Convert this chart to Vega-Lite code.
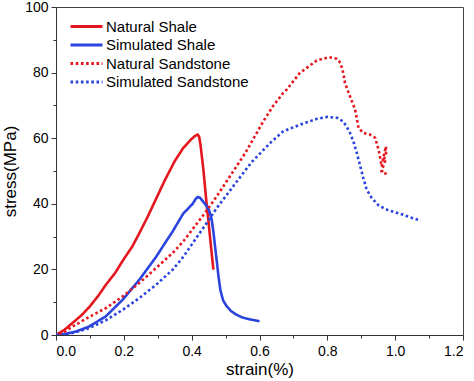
{
  "$schema": "https://vega.github.io/schema/vega-lite/v6.json",
  "width": 407,
  "height": 328,
  "autosize": {"type": "none"},
  "padding": {"left": 56, "top": 7, "right": 11, "bottom": 46},
  "background": "white",
  "config": {
    "view": {"stroke": "#444", "strokeWidth": 1},
    "axis": {
      "grid": false,
      "domainColor": "#333",
      "tickColor": "#333",
      "labelColor": "#000",
      "titleColor": "#000",
      "labelFont": "Liberation Sans",
      "titleFont": "Liberation Sans",
      "labelFontSize": 14,
      "titleFontSize": 17,
      "titleFontWeight": "normal"
    },
    "legend": {
      "labelFont": "Liberation Sans",
      "labelFontSize": 15,
      "labelColor": "#000"
    }
  },
  "data": {
    "values": [
      {"series": "Natural Shale", "strain": 0, "stress": 0},
      {"series": "Natural Shale", "strain": 0.025, "stress": 1.6},
      {"series": "Natural Shale", "strain": 0.049, "stress": 3.7},
      {"series": "Natural Shale", "strain": 0.075, "stress": 6},
      {"series": "Natural Shale", "strain": 0.098, "stress": 8.5},
      {"series": "Natural Shale", "strain": 0.125, "stress": 12},
      {"series": "Natural Shale", "strain": 0.147, "stress": 15.3},
      {"series": "Natural Shale", "strain": 0.175, "stress": 19},
      {"series": "Natural Shale", "strain": 0.197, "stress": 22.7},
      {"series": "Natural Shale", "strain": 0.225, "stress": 27},
      {"series": "Natural Shale", "strain": 0.246, "stress": 31.1},
      {"series": "Natural Shale", "strain": 0.27, "stress": 36},
      {"series": "Natural Shale", "strain": 0.295, "stress": 41.5},
      {"series": "Natural Shale", "strain": 0.32, "stress": 47},
      {"series": "Natural Shale", "strain": 0.35, "stress": 53},
      {"series": "Natural Shale", "strain": 0.375, "stress": 57},
      {"series": "Natural Shale", "strain": 0.4, "stress": 59.8},
      {"series": "Natural Shale", "strain": 0.41, "stress": 60.7},
      {"series": "Natural Shale", "strain": 0.418, "stress": 61.1},
      {"series": "Natural Shale", "strain": 0.422, "stress": 60.5},
      {"series": "Natural Shale", "strain": 0.426, "stress": 58},
      {"series": "Natural Shale", "strain": 0.43, "stress": 54.5},
      {"series": "Natural Shale", "strain": 0.435, "stress": 50},
      {"series": "Natural Shale", "strain": 0.439, "stress": 45.5},
      {"series": "Natural Shale", "strain": 0.444, "stress": 40},
      {"series": "Natural Shale", "strain": 0.449, "stress": 35.2},
      {"series": "Natural Shale", "strain": 0.454, "stress": 30},
      {"series": "Natural Shale", "strain": 0.459, "stress": 25},
      {"series": "Natural Shale", "strain": 0.464, "stress": 19.9},

      {"series": "Simulated Shale", "strain": 0, "stress": 0},
      {"series": "Simulated Shale", "strain": 0.03, "stress": 0.4},
      {"series": "Simulated Shale", "strain": 0.06, "stress": 1.1},
      {"series": "Simulated Shale", "strain": 0.098, "stress": 2.6},
      {"series": "Simulated Shale", "strain": 0.147, "stress": 5.7},
      {"series": "Simulated Shale", "strain": 0.197, "stress": 10.8},
      {"series": "Simulated Shale", "strain": 0.246, "stress": 16.9},
      {"series": "Simulated Shale", "strain": 0.295, "stress": 23.8},
      {"series": "Simulated Shale", "strain": 0.32, "stress": 27.8},
      {"series": "Simulated Shale", "strain": 0.344, "stress": 31.6},
      {"series": "Simulated Shale", "strain": 0.375, "stress": 37},
      {"series": "Simulated Shale", "strain": 0.403, "stress": 40},
      {"series": "Simulated Shale", "strain": 0.412, "stress": 41.5},
      {"series": "Simulated Shale", "strain": 0.418, "stress": 42.1},
      {"series": "Simulated Shale", "strain": 0.425, "stress": 41.8},
      {"series": "Simulated Shale", "strain": 0.435, "stress": 40.5},
      {"series": "Simulated Shale", "strain": 0.444, "stress": 39.3},
      {"series": "Simulated Shale", "strain": 0.452, "stress": 37.8},
      {"series": "Simulated Shale", "strain": 0.459, "stress": 35.2},
      {"series": "Simulated Shale", "strain": 0.464, "stress": 31.5},
      {"series": "Simulated Shale", "strain": 0.469, "stress": 27},
      {"series": "Simulated Shale", "strain": 0.474, "stress": 22.5},
      {"series": "Simulated Shale", "strain": 0.479, "stress": 17.9},
      {"series": "Simulated Shale", "strain": 0.485, "stress": 13.5},
      {"series": "Simulated Shale", "strain": 0.493, "stress": 10.5},
      {"series": "Simulated Shale", "strain": 0.503, "stress": 8.8},
      {"series": "Simulated Shale", "strain": 0.515, "stress": 7.4},
      {"series": "Simulated Shale", "strain": 0.53, "stress": 6.3},
      {"series": "Simulated Shale", "strain": 0.55, "stress": 5.3},
      {"series": "Simulated Shale", "strain": 0.575, "stress": 4.7},
      {"series": "Simulated Shale", "strain": 0.6, "stress": 4.2},

      {"series": "Natural Sandstone", "strain": 0.01, "stress": 0.2},
      {"series": "Natural Sandstone", "strain": 0.02, "stress": 0.6},
      {"series": "Natural Sandstone", "strain": 0.049, "stress": 2.6},
      {"series": "Natural Sandstone", "strain": 0.098, "stress": 5.5},
      {"series": "Natural Sandstone", "strain": 0.147, "stress": 8.2},
      {"series": "Natural Sandstone", "strain": 0.197, "stress": 11.8},
      {"series": "Natural Sandstone", "strain": 0.246, "stress": 15.9},
      {"series": "Natural Sandstone", "strain": 0.295, "stress": 20.4},
      {"series": "Natural Sandstone", "strain": 0.344, "stress": 25},
      {"series": "Natural Sandstone", "strain": 0.375, "stress": 28.5},
      {"series": "Natural Sandstone", "strain": 0.403, "stress": 32.3},
      {"series": "Natural Sandstone", "strain": 0.44, "stress": 37.3},
      {"series": "Natural Sandstone", "strain": 0.474, "stress": 42.3},
      {"series": "Natural Sandstone", "strain": 0.52, "stress": 49.5},
      {"series": "Natural Sandstone", "strain": 0.56, "stress": 55.8},
      {"series": "Natural Sandstone", "strain": 0.58, "stress": 59.5},
      {"series": "Natural Sandstone", "strain": 0.611, "stress": 65.1},
      {"series": "Natural Sandstone", "strain": 0.64, "stress": 69.8},
      {"series": "Natural Sandstone", "strain": 0.67, "stress": 73.8},
      {"series": "Natural Sandstone", "strain": 0.68, "stress": 74.8},
      {"series": "Natural Sandstone", "strain": 0.719, "stress": 79.9},
      {"series": "Natural Sandstone", "strain": 0.769, "stress": 83.7},
      {"series": "Natural Sandstone", "strain": 0.805, "stress": 84.7},
      {"series": "Natural Sandstone", "strain": 0.828, "stress": 84.2},
      {"series": "Natural Sandstone", "strain": 0.839, "stress": 82.9},
      {"series": "Natural Sandstone", "strain": 0.847, "stress": 79.9},
      {"series": "Natural Sandstone", "strain": 0.852, "stress": 76.8},
      {"series": "Natural Sandstone", "strain": 0.867, "stress": 72.7},
      {"series": "Natural Sandstone", "strain": 0.882, "stress": 68.7},
      {"series": "Natural Sandstone", "strain": 0.892, "stress": 63.1},
      {"series": "Natural Sandstone", "strain": 0.906, "stress": 61.6},
      {"series": "Natural Sandstone", "strain": 0.926, "stress": 61.1},
      {"series": "Natural Sandstone", "strain": 0.941, "stress": 60.1},
      {"series": "Natural Sandstone", "strain": 0.951, "stress": 56.5},
      {"series": "Natural Sandstone", "strain": 0.957, "stress": 53.4},
      {"series": "Natural Sandstone", "strain": 0.96, "stress": 51.4},
      {"series": "Natural Sandstone", "strain": 0.967, "stress": 55},
      {"series": "Natural Sandstone", "strain": 0.973, "stress": 57.5},
      {"series": "Natural Sandstone", "strain": 0.973, "stress": 55.3},
      {"series": "Natural Sandstone", "strain": 0.965, "stress": 53},
      {"series": "Natural Sandstone", "strain": 0.97, "stress": 52.9},
      {"series": "Natural Sandstone", "strain": 0.96, "stress": 50},
      {"series": "Natural Sandstone", "strain": 0.97, "stress": 49.9},
      {"series": "Natural Sandstone", "strain": 0.973, "stress": 48.4},

      {"series": "Simulated Sandstone", "strain": 0.015, "stress": 0},
      {"series": "Simulated Sandstone", "strain": 0.03, "stress": 0.2},
      {"series": "Simulated Sandstone", "strain": 0.06, "stress": 0.9},
      {"series": "Simulated Sandstone", "strain": 0.098, "stress": 2.1},
      {"series": "Simulated Sandstone", "strain": 0.147, "stress": 4.5},
      {"series": "Simulated Sandstone", "strain": 0.197, "stress": 7.7},
      {"series": "Simulated Sandstone", "strain": 0.246, "stress": 11.3},
      {"series": "Simulated Sandstone", "strain": 0.295, "stress": 15.3},
      {"series": "Simulated Sandstone", "strain": 0.344, "stress": 19.9},
      {"series": "Simulated Sandstone", "strain": 0.375, "stress": 23.8},
      {"series": "Simulated Sandstone", "strain": 0.403, "stress": 28},
      {"series": "Simulated Sandstone", "strain": 0.44, "stress": 33.5},
      {"series": "Simulated Sandstone", "strain": 0.474, "stress": 38.7},
      {"series": "Simulated Sandstone", "strain": 0.52, "stress": 45},
      {"series": "Simulated Sandstone", "strain": 0.575, "stress": 52.5},
      {"series": "Simulated Sandstone", "strain": 0.631, "stress": 58.5},
      {"series": "Simulated Sandstone", "strain": 0.67, "stress": 62.1},
      {"series": "Simulated Sandstone", "strain": 0.719, "stress": 64.1},
      {"series": "Simulated Sandstone", "strain": 0.769, "stress": 65.9},
      {"series": "Simulated Sandstone", "strain": 0.8, "stress": 66.5},
      {"series": "Simulated Sandstone", "strain": 0.829, "stress": 66.2},
      {"series": "Simulated Sandstone", "strain": 0.847, "stress": 65.1},
      {"series": "Simulated Sandstone", "strain": 0.865, "stress": 62.1},
      {"series": "Simulated Sandstone", "strain": 0.877, "stress": 59},
      {"series": "Simulated Sandstone", "strain": 0.887, "stress": 55.5},
      {"series": "Simulated Sandstone", "strain": 0.896, "stress": 51.9},
      {"series": "Simulated Sandstone", "strain": 0.906, "stress": 47.9},
      {"series": "Simulated Sandstone", "strain": 0.916, "stress": 44.3},
      {"series": "Simulated Sandstone", "strain": 0.931, "stress": 41.8},
      {"series": "Simulated Sandstone", "strain": 0.951, "stress": 39.5},
      {"series": "Simulated Sandstone", "strain": 0.98, "stress": 38},
      {"series": "Simulated Sandstone", "strain": 1.014, "stress": 37},
      {"series": "Simulated Sandstone", "strain": 1.044, "stress": 35.9},
      {"series": "Simulated Sandstone", "strain": 1.075, "stress": 34.9}
    ]
  },
  "mark": {"type": "line", "strokeWidth": 2.6, "clip": true},
  "encoding": {
    "x": {
      "field": "strain",
      "type": "quantitative",
      "scale": {"domain": [0, 1.2], "nice": false, "zero": false},
      "axis": {
        "title": "strain(%)",
        "values": [0, 0.1, 0.2, 0.3, 0.4, 0.5, 0.6, 0.7, 0.8, 0.9, 1.0, 1.1, 1.2],
        "labelExpr": "round(datum.value * 10) % 2 === 0 ? format(datum.value, '.1f') : ''",
        "tickSize": {"condition": {"test": "round(datum.value * 10) % 2 === 0", "value": 5}, "value": 3},
        "labelPadding": 4,
        "titlePadding": 3
      }
    },
    "y": {
      "field": "stress",
      "type": "quantitative",
      "scale": {"domain": [0, 100], "nice": false},
      "axis": {
        "title": "stress(MPa)",
        "values": [0, 10, 20, 30, 40, 50, 60, 70, 80, 90, 100],
        "labelExpr": "datum.value % 20 === 0 ? datum.label : ''",
        "tickSize": {"condition": {"test": "datum.value % 20 === 0", "value": 5}, "value": 3},
        "labelPadding": 3,
        "titlePadding": 5
      }
    },
    "color": {
      "field": "series",
      "type": "nominal",
      "scale": {
        "domain": ["Natural Shale", "Simulated Shale", "Natural Sandstone", "Simulated Sandstone"],
        "range": ["#e4161e", "#2a44dc", "#e4161e", "#2a44dc"]
      },
      "legend": {
        "title": null,
        "orient": "none",
        "legendX": 23,
        "legendY": 12,
        "padding": 0,
        "symbolType": "M-4,0H4",
        "symbolSize": 64,
        "symbolStrokeWidth": 3,
        "labelOffset": 12,
        "rowPadding": 2.5
      }
    },
    "strokeDash": {
      "field": "series",
      "type": "nominal",
      "scale": {
        "domain": ["Natural Shale", "Simulated Shale", "Natural Sandstone", "Simulated Sandstone"],
        "range": [[1, 0], [1, 0], [2.6, 2.6], [2.6, 2.6]]
      },
      "legend": {
        "title": null,
        "orient": "none",
        "legendX": 23,
        "legendY": 12,
        "padding": 0,
        "symbolType": "M-4,0H4",
        "symbolSize": 64,
        "symbolStrokeWidth": 3,
        "labelOffset": 12,
        "rowPadding": 2.5
      }
    },
    "order": {"value": null}
  }
}
